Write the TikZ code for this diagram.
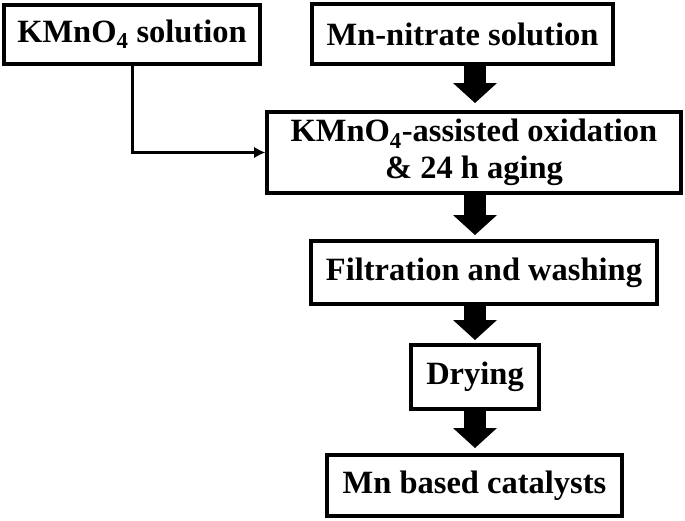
\documentclass[tikz,border=0pt]{standalone}
\usepackage{fontspec}
\setmainfont{Liberation Serif}
\usetikzlibrary{arrows.meta}

\begin{document}
\begin{tikzpicture}[x=1pt,y=-1pt,
  stepbox/.style={draw,line width=4pt,inner sep=0pt,align=center,
    font=\bfseries\fontsize{32.5}{37}\selectfont},
  flow/.style={line width=22pt,-{Triangle[width=44pt,length=20pt,line width=0pt]}},
  feed/.style={line width=3pt,-{Latex[length=11pt,width=11pt,line width=0pt]}}]
  \useasboundingbox (0,0) rectangle (685,520);
  % --- boxes ---
  \node[stepbox,minimum width=256pt,minimum height=59pt] (ksol) at (132,34.5) {KMnO\textsubscript{4} solution};
  \node[stepbox,minimum width=301pt,minimum height=60pt] (mnsol) at (462.5,34) {Mn-nitrate solution};
  \node[stepbox,minimum width=414pt,minimum height=81pt] (oxid) at (474,152.5) {KMnO\textsubscript{4}-assisted oxidation\\\& 24 h aging};
  \node[stepbox,minimum width=346pt,minimum height=63pt] (filt) at (484,272.5) {Filtration and washing};
  \node[stepbox,minimum width=128pt,minimum height=64pt] (dry) at (475,377) {Drying};
  \node[stepbox,minimum width=295pt,minimum height=61pt] (cat) at (474.5,485.5) {Mn based catalysts};
  % --- arrows ---
  \draw[feed] (ksol.south) |- (oxid.west);
  \draw[flow] (mnsol.south -| dry) -- ([yshift=7pt]oxid.north -| dry);
  \draw[flow] (oxid.south -| dry) -- ([yshift=4pt]filt.north -| dry);
  \draw[flow] (filt.south -| dry) -- ([yshift=3pt]dry.north);
  \draw[flow] (dry.south) -- ([yshift=5pt]cat.north -| dry);
\end{tikzpicture}
\end{document}
